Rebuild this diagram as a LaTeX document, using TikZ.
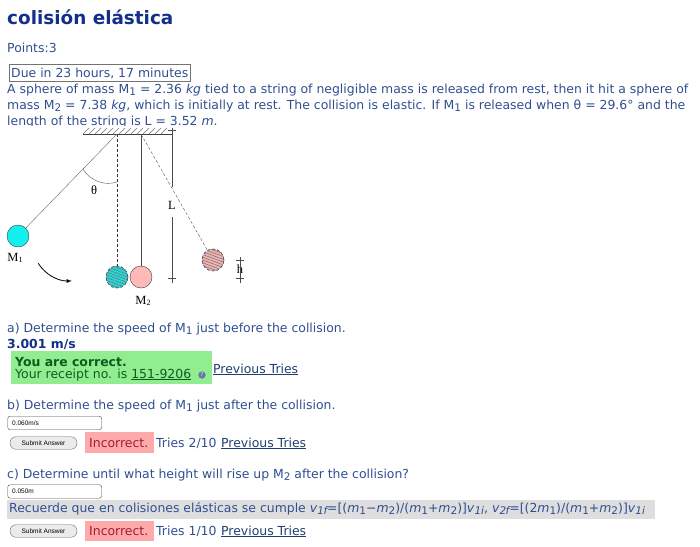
\documentclass[tikz,border=0pt]{standalone}
\usepackage{fontspec}
\setmainfont{DejaVu Sans}
\newfontfamily\serifface{Liberation Serif}
\newfontfamily\btnface{Liberation Sans}
\usetikzlibrary{patterns.meta}
\definecolor{txtblue}{HTML}{2F4F92}
\definecolor{headblue}{HTML}{12308A}
\definecolor{linkblue}{HTML}{1F3F70}
\definecolor{okgreen}{HTML}{90EE90}
\definecolor{okdark}{HTML}{0F5A1E}
\definecolor{badred}{HTML}{FFAAAA}
\definecolor{badtxt}{HTML}{A01C30}
\definecolor{hintgray}{HTML}{DEDEDE}
\definecolor{ballcyan}{HTML}{12F0F0}
\definecolor{ballteal}{HTML}{22DCDC}
\definecolor{ballpink}{HTML}{FFB9B9}
\definecolor{ballrose}{HTML}{F4B4B4}
\newcommand{\dn}[1]{\raisebox{-2.5pt}{\fontsize{10.5}{10.5}\selectfont #1}}
\newcommand{\dnit}[1]{\raisebox{-2.5pt}{\fontsize{10.5}{10.5}\selectfont\itshape #1}}
\tikzset{
  line/.style={anchor=base west, inner sep=0, text=txtblue, font=\fontsize{12.44}{14}\selectfont},
  boldline/.style={line, font=\bfseries\fontsize{12.44}{14}\selectfont},
  inbox/.style={draw=black!70, rounded corners=2.5, fill=white, inner sep=0, anchor=north west, minimum width=94, minimum height=13.5},
  intxt/.style={anchor=west, inner sep=0, font=\btnface\fontsize{6.5}{7}\selectfont},
  btn/.style={draw=black!60, rounded corners=6, fill=black!8, inner sep=0, minimum width=67, minimum height=12.5, font=\btnface\fontsize{6.5}{7}\selectfont},
  ball/.style={draw, circle, inner sep=0, minimum size=22, thin},
  hatched/.style={ball, densely dashed, pattern={Lines[angle=-20, distance=2.6pt, line width=.6pt]}, pattern color=black!55},
  lbl/.style={inner sep=0, font=\serifface\fontsize{12.5}{13}\selectfont},
  anch/.style={inner sep=0, minimum size=0}
}
\begin{document}
\begin{tikzpicture}[x=1pt,y=-1pt]
\useasboundingbox[fill=white] (0,0) rectangle (700,546);
% Header:
\node[line, text=headblue, font=\bfseries\fontsize{18.4}{22}\selectfont] (title) at (7,24) {colisión elástica};
\node[line] (points) at (7,52) {Points:3};
\node[draw=black!55, line width=1, inner sep=0, minimum width=181, minimum height=17, anchor=north west] (duebox) at (8.5,64) {};
\node[line] (due) at (11,77) {Due in 23 hours, 17 minutes};
\node[line] (txt1) at (7,93) {A sphere of mass M\dn{1} = 2.36 \textit{kg} tied to a string of negligible mass is released from rest, then it hit a sphere of};
\node[line] (txt2) at (7,109) {mass M\dn{2} = 7.38 \textit{kg}, which is initially at rest. The collision is elastic. If M\dn{1} is released when θ = 29.6° and the};
\node[line] (txt3) at (7,125) {length of the string is L = 3.52 \textit{m}.};
\fill[white] (0,126) rectangle (260,132);
% Figure:
\node[anch] (pivot1) at (117,134) {};
\node[anch] (pivot2) at (141,134) {};
\node[anch] (ceilL) at (83,134) {};
\node[anch] (ceilR) at (172,134) {};
\node[ball, fill=ballcyan, draw=black!75] (m1) at (18,236) {};
\node[ball, densely dashed, fill=ballteal, draw=black!75] (m1b) at (117,277) {};
\node[hatched, draw=black!70] (m1h) at (117,277) {};
\node[ball, fill=ballpink, draw=black!75] (m2) at (141,277) {};
\node[ball, fill=ballrose, densely dashed, draw=black!75] (m2a) at (213,260) {};
\node[hatched, draw=black!70] (m2h) at (213,260) {};
\draw[black!75] (ceilL)--(ceilR);
\foreach \x in {83,89,...,161} \draw[black!55, thin] (\x,134)--(\x+6,128);
\draw[black!60, thin] (pivot1)--(m1);
\draw[black!80, densely dashed, thin] (pivot1)--(m1h);
\draw[black!70] (pivot2)--(m2);
\draw[black!65, densely dashed, thin] (pivot2)--(m2h);
% Dimensions:
\node[lbl] (lenL) at (172,205) {L};
\node[anch] (lenTop) at (172,128) {};
\node[anch] (lenA) at (172,187) {};
\node[anch] (lenB) at (172,217) {};
\node[anch] (lenBot) at (172,283) {};
\draw[black!70] (lenTop)--(lenA);
\draw[black!70] (lenB)--(lenBot);
\draw[black!70] (168,278)--(176,278);
\draw[black!70] (168,130)--(176,130);
\node[lbl] (hgt) at (240,269) {h};
\node[anch] (hTop) at (240,257) {};
\node[anch] (hBot) at (240,283) {};
\draw[black!70] (hTop)--(hBot);
\draw[black!70] (236,260)--(244,260);
\draw[black!70] (236,278)--(244,278);
% Angle and swing:
\node[lbl] (theta) at (94,190) {θ};
\node[anch] (arcA) at (83,169) {};
\node[anch] (arcB) at (117,182) {};
\draw[black!65, thin] (arcA) .. controls (90,181) and (105,186) .. (arcB);
\node[anch] (swingA) at (38,263) {};
\node[anch] (swingB) at (72,281) {};
\draw[->, thick, >=latex] (swingA) .. controls (45,274) and (57,281) .. (swingB);
\node[lbl] (m1lab) at (15,258) {M\raisebox{-1.5pt}{\fontsize{8}{8}\selectfont 1}};
\node[lbl] (m2lab) at (143,301) {M\raisebox{-1.5pt}{\fontsize{8}{8}\selectfont 2}};
% Part a:
\node[line] (parta) at (7,332) {a) Determine the speed of M\dn{1} just before the collision.};
\node[boldline, text=headblue] (ans) at (7,348) {3.001 m/s};
\fill[okgreen] (11,351) rectangle (212,384);
\node[boldline, text=okdark] (okay) at (15,366) {You are correct.};
\node[line, text=okdark] (rcpt) at (15,378) {Your receipt no. is \underline{151-9206}};
\node[draw=linkblue!60, fill=linkblue!70, text=white, circle, inner sep=0, minimum size=7, font=\fontsize{5}{5}\selectfont] (info) at (202,375) {?};
\node[line, text=linkblue] (prev1) at (213,373) {\underline{Previous Tries}};
% Part b:
\node[line] (partb) at (7,409) {b) Determine the speed of M\dn{1} just after the collision.};
\node[inbox] (inb) at (7.5,416) {};
\node[intxt] (inbtxt) at (12,423) {0.060m/s};
\node[btn] (subb) at (43.5,443) {Submit Answer};
\fill[badred] (85,432) rectangle (154,453);
\node[line, text=badtxt] (badb) at (89,447) {Incorrect.};
\node[line] (triesb) at (156,447) {Tries 2/10};
\node[line, text=linkblue] (prev2) at (221,447) {\underline{Previous Tries}};
% Part c:
\node[line] (partc) at (7,478) {c) Determine until what height will rise up M\dn{2} after the collision?};
\node[inbox] (inc) at (7.5,484.5) {};
\node[intxt] (inctxt) at (12,491) {0.050m};
\fill[hintgray] (7,500) rectangle (655,519);
\node[line] (hint) at (9,512) {Recuerde que en colisiones elásticas se cumple \textit{v}\dnit{1\kern-.5pt f}=[(\textit{m}\dn{1}−\textit{m}\dn{2})/(\textit{m}\dn{1}+\textit{m}\dn{2})]\textit{v}\dnit{1i}, \textit{v}\dnit{2\kern-.5pt f}=[(2\textit{m}\dn{1})/(\textit{m}\dn{1}+\textit{m}\dn{2})]\textit{v}\dnit{1i}};
\node[btn] (subc) at (43.5,531) {Submit Answer};
\fill[badred] (85,521) rectangle (154,541);
\node[line, text=badtxt] (badc) at (89,535) {Incorrect.};
\node[line] (triesc) at (156,535) {Tries 1/10};
\node[line, text=linkblue] (prev3) at (221,535) {\underline{Previous Tries}};
\end{tikzpicture}
\end{document}
